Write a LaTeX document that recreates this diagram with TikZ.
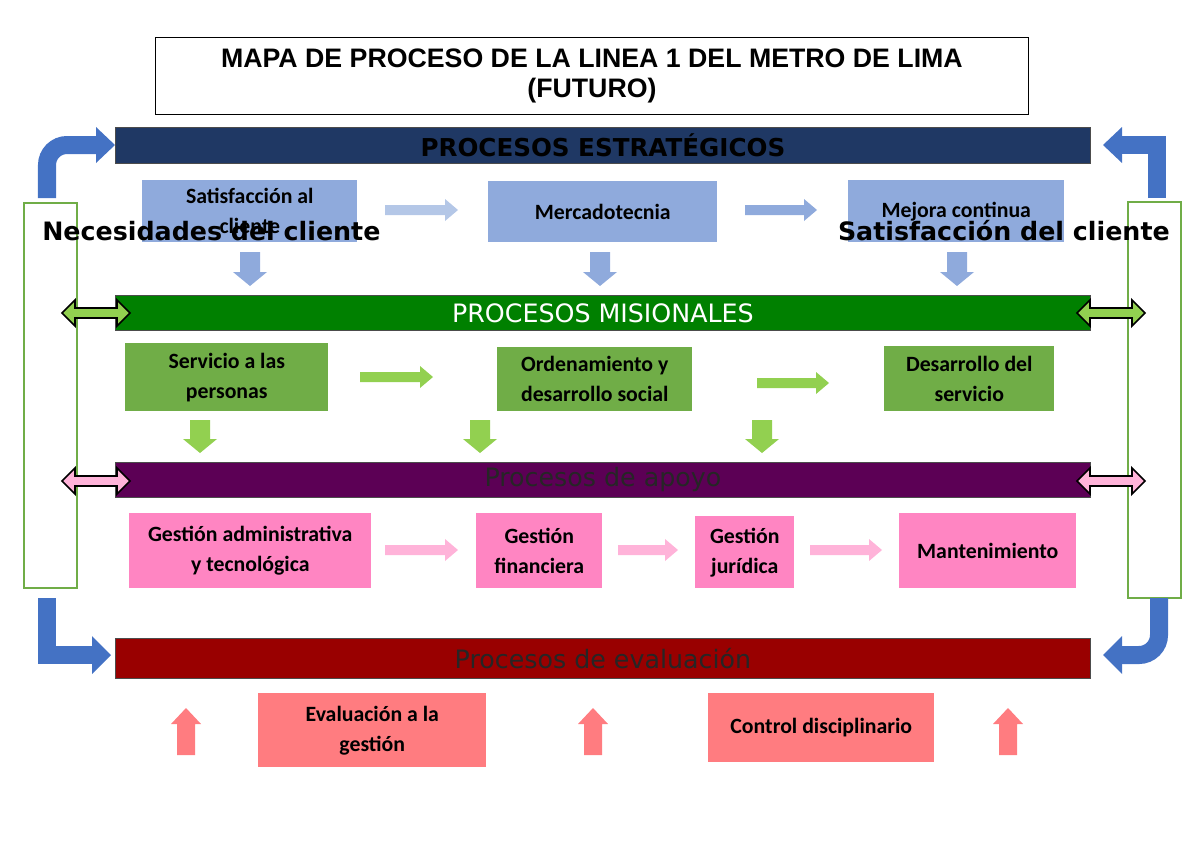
\documentclass[tikz,border=0pt]{standalone}
\usepackage{fontspec}
\setmainfont{Carlito}
\newfontfamily\dejavu{DejaVu Sans}
\newfontfamily\libsans{Liberation Sans}
\definecolor{navy}{HTML}{1F3864}
\definecolor{bbox}{HTML}{8FAADC}
\definecolor{bl}{HTML}{B4C7E7}
\definecolor{gbar}{HTML}{008000}
\definecolor{gbox}{HTML}{70AD47}
\definecolor{garr}{HTML}{92D050}
\definecolor{pbar}{HTML}{5C0055}
\definecolor{pbox}{HTML}{FF85C2}
\definecolor{parr}{HTML}{FFB3D9}
\definecolor{rbar}{HTML}{990000}
\definecolor{sbox}{HTML}{FF7C80}
\definecolor{barr}{HTML}{4472C4}
\newcommand\harr[4]{\fill[#4] (#1,{#3-5}) -- ({#2-13},{#3-5}) -- ({#2-13},{#3-11}) -- (#2,#3) -- ({#2-13},{#3+11}) -- ({#2-13},{#3+5}) -- (#1,{#3+5}) -- cycle;}
\newcommand\varr[4]{\fill[#4] ({#1-10},#2) -- ({#1+10},#2) -- ({#1+10},{#3-14}) -- ({#1+17},{#3-14}) -- (#1,#3) -- ({#1-17},{#3-14}) -- ({#1-10},{#3-14}) -- cycle;}
\newcommand\uarr[4]{\fill[#4] ({#1-9},#2) -- ({#1+9},#2) -- ({#1+9},{#3+16}) -- ({#1+15},{#3+16}) -- (#1,#3) -- ({#1-15},{#3+16}) -- ({#1-9},{#3+16}) -- cycle;}
\newcommand\darr[4]{\filldraw[#4,draw=black,line width=1.2pt] (#1,#3) -- ({#1+13},{#3-13}) -- ({#1+13},{#3-5}) -- ({#2-13},{#3-5}) -- ({#2-13},{#3-13}) -- (#2,#3) -- ({#2-13},{#3+13}) -- ({#2-13},{#3+5}) -- ({#1+13},{#3+5}) -- ({#1+13},{#3+13}) -- cycle;}
\tikzset{
 bar/.style={draw=black!70,line width=0.6pt,anchor=north west,inner sep=0,font=\dejavu\fontsize{18}{20}\selectfont},
 box/.style={anchor=north west,inner sep=0,align=center,font=\bfseries\fontsize{15.5}{21.3}\selectfont},
 bent/.style={barr,line width=0.45cm,rounded corners=0.5cm},
}
\begin{document}
\begin{tikzpicture}[x=0.025cm,y=-0.025cm]
\useasboundingbox (0,0) rectangle (1200,848);
\node[draw,line width=0.6pt,anchor=north west,minimum width=873*0.025cm,minimum height=77*0.025cm,align=center,font=\libsans\bfseries\fontsize{19}{22}\selectfont] (title) at (155,37) {MAPA DE PROCESO DE LA LINEA 1 DEL METRO DE LIMA\\(FUTURO)};
% bars
\node[bar,fill=navy,minimum width=975*0.025cm,minimum height=36*0.025cm,font=\dejavu\bfseries\fontsize{17.5}{19}\selectfont] (est) at (115,127) {PROCESOS ESTRATÉGICOS};
\node[bar,fill=gbar,text=white,minimum width=975*0.025cm,minimum height=35*0.025cm] (mis) at (115,295) {PROCESOS MISIONALES};
\node[bar,fill=pbar,text=black!85,minimum width=975*0.025cm,minimum height=35*0.025cm] (apo) at (115,462) {Procesos de apoyo};
\node[bar,fill=rbar,text=black!85,minimum width=975*0.025cm,minimum height=40*0.025cm] (eva) at (115,638) {Procesos de evaluación};
% green outline boxes
\draw[gbox,line width=1pt] (24,203) rectangle (77,588);
\draw[gbox,line width=1pt] (1128,202) rectangle (1181,598);
% blue boxes
\node[box,fill=bbox,minimum width=215*0.025cm,minimum height=62*0.025cm] (b1) at (142,180) {Satisfacción al\\cliente};
\node[box,fill=bbox,minimum width=229*0.025cm,minimum height=61*0.025cm] (b2) at (488,181) {Mercadotecnia};
\node[box,fill=bbox,minimum width=216*0.025cm,minimum height=62*0.025cm] (b3) at (848,180) {Mejora continua};
\harr{385}{458}{210}{bl}
\harr{745}{817}{210}{bbox}
\varr{250}{252}{286}{bbox}
\varr{600}{252}{286}{bbox}
\varr{957}{252}{286}{bbox}
% green
\node[box,fill=gbox,minimum width=203*0.025cm,minimum height=68*0.025cm] (g1) at (125,343) {Servicio a las\\personas};
\node[box,fill=gbox,minimum width=195*0.025cm,minimum height=64*0.025cm] (g2) at (497,347) {Ordenamiento y\\desarrollo social};
\node[box,fill=gbox,minimum width=170*0.025cm,minimum height=65*0.025cm] (g3) at (884,346) {Desarrollo del\\servicio};
\harr{360}{433}{377}{garr}
\harr{757}{829}{383}{garr}
\varr{200}{420}{453}{garr}
\varr{480}{420}{453}{garr}
\varr{762}{420}{453}{garr}
% pink
\node[box,fill=pbox,minimum width=242*0.025cm,minimum height=75*0.025cm] (p1) at (129,513) {Gestión administrativa\\y tecnológica};
\node[box,fill=pbox,minimum width=126*0.025cm,minimum height=75*0.025cm] (p2) at (476,513) {Gestión\\financiera};
\node[box,fill=pbox,minimum width=99*0.025cm,minimum height=72*0.025cm] (p3) at (695,516) {Gestión\\jurídica};
\node[box,fill=pbox,minimum width=177*0.025cm,minimum height=75*0.025cm] (p4) at (899,513) {Mantenimiento};
\harr{385}{458}{550}{parr}
\harr{618}{678}{550}{parr}
\harr{810}{882}{550}{parr}
% salmon
\node[box,fill=sbox,minimum width=228*0.025cm,minimum height=74*0.025cm] (s1) at (258,693) {Evaluación a la\\gestión};
\node[box,fill=sbox,minimum width=226*0.025cm,minimum height=69*0.025cm] (s2) at (708,693) {Control disciplinario};
\uarr{186}{755}{708}{sbox}
\uarr{593}{755}{708}{sbox}
\uarr{1008}{755}{708}{sbox}
% double arrows
\darr{62}{130}{313}{garr}
\darr{1077}{1145}{313}{garr}
\darr{62}{130}{481}{parr}
\darr{1077}{1145}{481}{parr}
% bent blue arrows
\draw[bent] (47,198) -- (47,145) -- (96,145);
\fill[barr] (96,127) -- (115,145) -- (96,163) -- cycle;
\draw[bent,rounded corners=0] (47,598) -- (47,655) -- (92,655);
\fill[barr] (92,636) -- (111,655) -- (92,674) -- cycle;
\draw[bent,rounded corners=0] (1157,198) -- (1157,145) -- (1122,145);
\fill[barr] (1122,127) -- (1103,145) -- (1122,163) -- cycle;
\draw[bent] (1159,598) -- (1159,655) -- (1122,655);
\fill[barr] (1122,636) -- (1103,655) -- (1122,674) -- cycle;
% big labels
\node[font=\dejavu\bfseries\fontsize{18}{20}\selectfont,anchor=west,inner sep=0] (nec) at (42,231) {Necesidades del cliente};
\node[font=\dejavu\bfseries\fontsize{18}{20}\selectfont,anchor=east,inner sep=0] (sat) at (1170,231) {Satisfacción del cliente};
\end{tikzpicture}
\end{document}
